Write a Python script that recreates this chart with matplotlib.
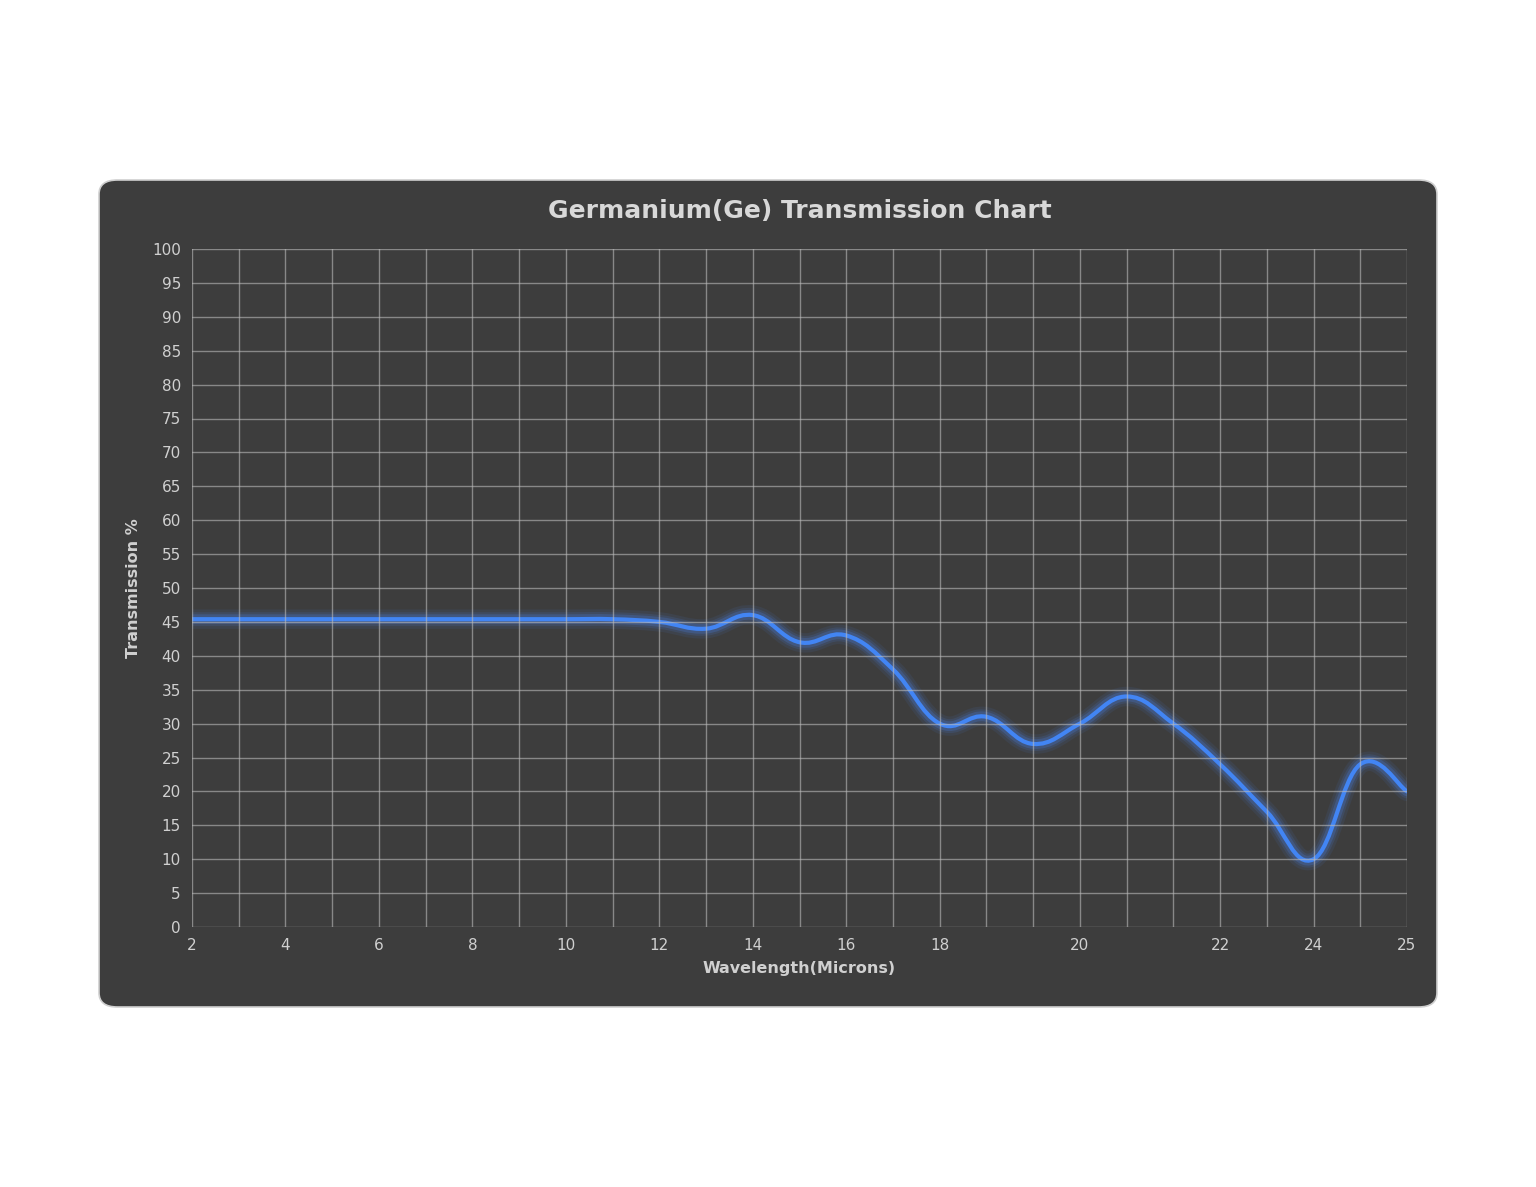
import numpy as np
import matplotlib.pyplot as plt
from matplotlib.patches import FancyBboxPatch
from matplotlib.path import Path
from matplotlib.patches import PathPatch

wavelengths = ["2", "3", "4", "5", "6", "7", "8", "9", "10", "11", "12", "13", "14", "15",
               "16", "17", "18", "18.5", "19.5", "20", "20.5", "21", "22", "23", "24", "24.5", "25"]
transmission = [45.4, 45.4, 45.4, 45.4, 45.4, 45.4, 45.4, 45.4, 45.4, 45.4, 45.0, 44.0, 46.0, 42.0,
                43.0, 38.0, 30.0, 31.0, 27.0, 30.0, 34.0, 30.0, 24.0, 17.0, 10.0, 24.0, 20.0]
shown_labels = ["2", "4", "6", "8", "10", "12", "14", "16", "18", "20", "22", "24", "25"]

W, H = 1536, 1187
fig = plt.figure(figsize=(W / 100, H / 100), dpi=100)
fig.patch.set_facecolor("white")

# dark rounded panel, kept behind the axes
panel = FancyBboxPatch((99 / W, 1 - 1007 / H), (1437 - 99) / W, (1007 - 180) / H,
                       boxstyle="round,pad=0,rounding_size=0.012", transform=fig.transFigure,
                       facecolor="#3d3d3d", edgecolor="#cfcfcf", linewidth=1.2, zorder=-10)
fig.patches.append(panel)

ax = fig.add_axes([192 / W, 1 - 927 / H, (1407 - 192) / W, (927 - 249) / H])
ax.set_zorder(5)
ax.set_facecolor("none")
n = len(wavelengths)
x = np.arange(n)
ax.set_xlim(0, n - 1)
ax.set_ylim(0, 100)

ax.set_xticks(x)
ax.set_xticklabels([w if w in shown_labels else "" for w in wavelengths])
ax.set_yticks(np.arange(0, 101, 5))
ax.tick_params(colors="#d0d0d0", labelsize=11, length=0, pad=8)
ax.grid(True, color="#bbbbbb", linewidth=1.0, alpha=0.6)
for s in ax.spines.values():
    s.set_visible(False)

# chart.js style bezier with tension 0.4
y = np.array(transmission)
t = 0.4
verts = [(x[0], y[0])]
codes = [Path.MOVETO]
for i in range(n - 1):
    p0 = (x[i - 1], y[i - 1]) if i > 0 else (x[i], y[i])
    p1 = (x[i], y[i]); p2 = (x[i + 1], y[i + 1])
    p3 = (x[i + 2], y[i + 2]) if i + 2 < n else p2
    c1 = (p1[0] + (p2[0] - p0[0]) * t / 2, p1[1] + (p2[1] - p0[1]) * t / 2)
    c2 = (p2[0] - (p3[0] - p1[0]) * t / 2, p2[1] - (p3[1] - p1[1]) * t / 2)
    verts += [c1, c2, p2]
    codes += [Path.CURVE4] * 3
path = Path(verts, codes)
for lw, a in [(14, 0.08), (10, 0.12), (7, 0.2)]:
    ax.add_patch(PathPatch(path, facecolor="none", edgecolor="#4a8cff", lw=lw, alpha=a,
                           capstyle="round", joinstyle="round"))
ax.add_patch(PathPatch(path, facecolor="none", edgecolor="#4285f4", lw=3,
                       capstyle="round", joinstyle="round"))

ax.set_title("Germanium(Ge) Transmission Chart", color="#d8d8d8", fontsize=18,
             fontweight="bold", pad=22)
ax.set_xlabel("Wavelength(Microns)", color="#d0d0d0", fontsize=11.5, fontweight="bold", labelpad=6)
ax.set_ylabel("Transmission %", color="#d0d0d0", fontsize=11.5, fontweight="bold", labelpad=8)

fig.savefig("out.png", dpi=100)
